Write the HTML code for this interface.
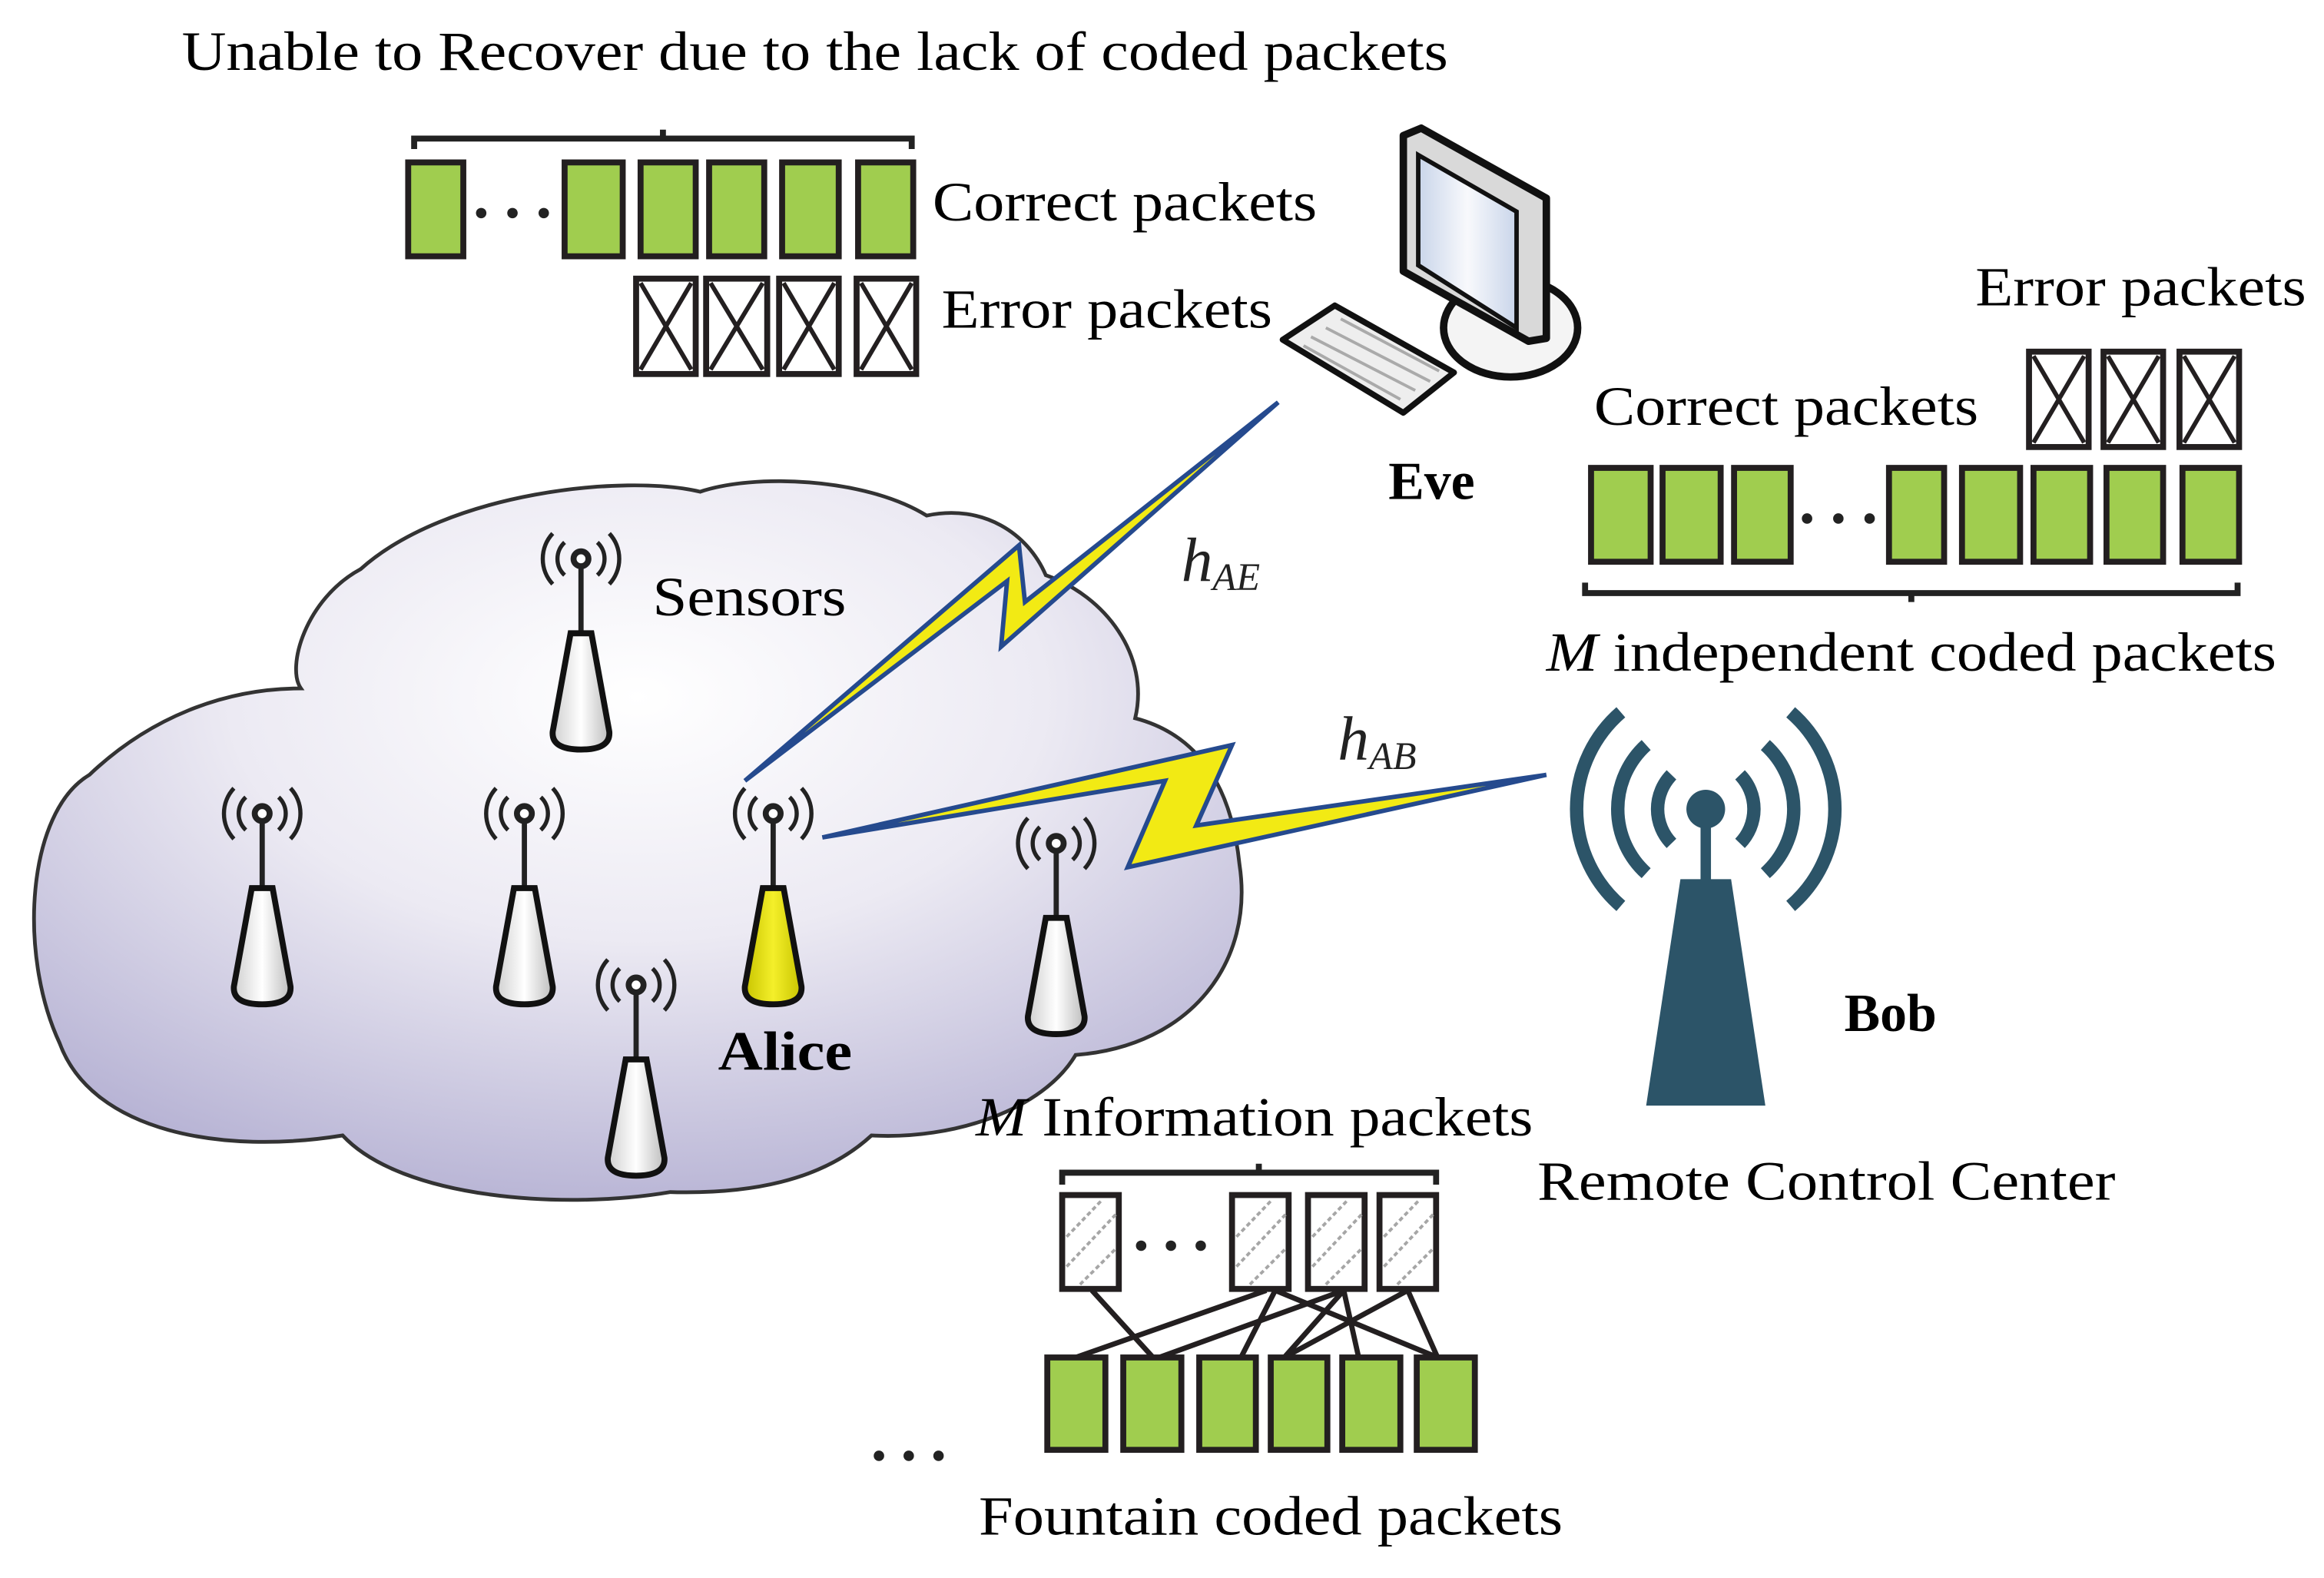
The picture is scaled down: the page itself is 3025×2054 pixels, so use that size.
<!DOCTYPE html>
<html><head><meta charset="utf-8">
<style>html,body{margin:0;padding:0;background:#fff}svg{display:block}</style></head>
<body>
<svg width="3025" height="2054" viewBox="0 0 1560 1059" preserveAspectRatio="none" xmlns="http://www.w3.org/2000/svg" font-family="'Liberation Serif', serif">
<defs>
<radialGradient id="cg" cx="0.5" cy="0.3" r="0.75">
<stop offset="0" stop-color="#ffffff"/><stop offset="0.45" stop-color="#eceaf3"/><stop offset="1" stop-color="#b3afd2"/>
</radialGradient>
<linearGradient id="tw" x1="0" x2="1"><stop offset="0" stop-color="#cfcfcf"/><stop offset="0.5" stop-color="#ffffff"/><stop offset="1" stop-color="#bdbdbd"/></linearGradient>
<linearGradient id="ty" x1="0" x2="1"><stop offset="0" stop-color="#c8c400"/><stop offset="0.5" stop-color="#f4ef2a"/><stop offset="1" stop-color="#c8c400"/></linearGradient>
<linearGradient id="scr" x1="0" x2="1"><stop offset="0" stop-color="#c9d5ea"/><stop offset="0.5" stop-color="#f8f9fc"/><stop offset="1" stop-color="#c9d5ea"/></linearGradient>
<g id="ant">
<circle cx="0" cy="0" r="5" fill="#fff" stroke="#222" stroke-width="4"/>
<path d="M -11,-11 A 15,15 0 0 0 -11,11 M 11,-11 A 15,15 0 0 1 11,11 M -19,-17 A 25,25 0 0 0 -19,17 M 19,-17 A 25,25 0 0 1 19,17" fill="none" stroke="#222" stroke-width="2.8"/>
<line x1="0" y1="4" x2="0" y2="50" stroke="#222" stroke-width="3.5"/>
</g>
<path id="body" d="M -7,50 L 7,50 L 19,116 Q 20,128 0,128 Q -20,128 -19,116 Z" stroke="#111" stroke-width="4"/>
</defs>

<text x="122" y="47" font-size="37" textLength="850" lengthAdjust="spacingAndGlyphs">Unable to Recover due to the lack of coded packets</text>

<path d="M278,100 L278,93 L612,93 L612,100 M445,93 L445,87" fill="none" stroke="#222" stroke-width="4"/>
<g fill="#a0cd4f" stroke="#231f20" stroke-width="4">
<rect x="274" y="109" width="37" height="63"/>
<rect x="379" y="109" width="39" height="63"/>
<rect x="430" y="109" width="37" height="63"/>
<rect x="476" y="109" width="37" height="63"/>
<rect x="525" y="109" width="38" height="63"/>
<rect x="576" y="109" width="37" height="63"/>
</g>
<g fill="#222"><circle cx="323" cy="143" r="3.5"/><circle cx="344" cy="143" r="3.5"/><circle cx="365" cy="143" r="3.5"/></g>
<text x="626" y="148" font-size="37" textLength="258" lengthAdjust="spacingAndGlyphs">Correct packets</text>
<g fill="#fff" stroke="#231f20" stroke-width="4">
<rect x="427" y="187" width="40" height="64"/><path d="M430,190 L464,248 M464,190 L430,248" stroke-width="3"/>
<rect x="474" y="187" width="41" height="64"/><path d="M477,190 L512,248 M512,190 L477,248" stroke-width="3"/>
<rect x="523" y="187" width="40" height="64"/><path d="M526,190 L560,248 M560,190 L526,248" stroke-width="3"/>
<rect x="575" y="187" width="40" height="64"/><path d="M578,190 L612,248 M612,190 L578,248" stroke-width="3"/>
</g>
<text x="632" y="220" font-size="37" textLength="222" lengthAdjust="spacingAndGlyphs">Error packets</text>

<ellipse cx="1014" cy="220" rx="45" ry="33" fill="#f4f4f4" stroke="#111" stroke-width="5"/>
<path d="M942,91 L954,86 L1038,133 L1038,227 L1026,229 L942,182 Z" fill="#d9d9d9" stroke="#111" stroke-width="5" stroke-linejoin="round"/>
<path d="M952,104 L1018,142 L1018,220 L952,178 Z" fill="url(#scr)" stroke="#111" stroke-width="3"/>
<path d="M861,228 L896,205 L976,250 L942,277 Z" fill="#eee" stroke="#111" stroke-width="4" stroke-linejoin="round"/>
<g stroke="#aaa" stroke-width="2"><path d="M880,226 L950,262 M890,220 L960,256 M900,214 L966,249 M875,232 L940,268"/></g>
<text x="932" y="335" font-size="36" font-weight="bold">Eve</text>

<text x="1326" y="205" font-size="37" textLength="222" lengthAdjust="spacingAndGlyphs">Error packets</text>
<g fill="#fff" stroke="#231f20" stroke-width="4">
<rect x="1362" y="236" width="40" height="64"/><path d="M1365,239 L1399,297 M1399,239 L1365,297" stroke-width="3"/>
<rect x="1412" y="236" width="40" height="64"/><path d="M1415,239 L1449,297 M1449,239 L1415,297" stroke-width="3"/>
<rect x="1463" y="236" width="40" height="64"/><path d="M1466,239 L1500,297 M1500,239 L1466,297" stroke-width="3"/>
</g>
<text x="1070" y="285" font-size="37" textLength="258" lengthAdjust="spacingAndGlyphs">Correct packets</text>
<g fill="#a0cd4f" stroke="#231f20" stroke-width="4">
<rect x="1068" y="314" width="40" height="63"/>
<rect x="1116" y="314" width="39" height="63"/>
<rect x="1164" y="314" width="38" height="63"/>
<rect x="1268" y="314" width="37" height="63"/>
<rect x="1317" y="314" width="39" height="63"/>
<rect x="1365" y="314" width="38" height="63"/>
<rect x="1414" y="314" width="38" height="63"/>
<rect x="1465" y="314" width="38" height="63"/>
</g>
<g fill="#222"><circle cx="1213" cy="348" r="3.5"/><circle cx="1234" cy="348" r="3.5"/><circle cx="1255" cy="348" r="3.5"/></g>
<path d="M1064,391 L1064,398 L1502,398 L1502,391 M1283,398 L1283,404" fill="none" stroke="#222" stroke-width="4"/>
<text x="1038" y="450" font-size="37" textLength="490" lengthAdjust="spacingAndGlyphs"><tspan font-style="italic">M</tspan> independent coded packets</text>

<path d="M60,520 C18,545 12,640 40,700 C62,760 150,775 230,762 C270,805 380,812 450,800 C520,802 560,785 585,762 C640,765 700,745 722,708 C800,702 842,645 832,580 C826,522 800,492 762,482 C772,440 742,400 702,386 C690,358 660,338 622,346 C580,320 505,318 470,330 C420,318 300,330 242,382 C205,402 192,448 202,462 C150,462 100,482 60,520 Z" fill="url(#cg)" stroke="#333" stroke-width="2.5"/>

<g transform="translate(390,375)"><use href="#ant"/><use href="#body" fill="url(#tw)"/></g>
<g transform="translate(176,546)"><use href="#ant"/><use href="#body" fill="url(#tw)"/></g>
<g transform="translate(352,546)"><use href="#ant"/><use href="#body" fill="url(#tw)"/></g>
<g transform="translate(519,546)"><use href="#ant"/><use href="#body" fill="url(#ty)"/></g>
<g transform="translate(709,566)"><use href="#ant"/><use href="#body" fill="url(#tw)"/></g>
<g transform="translate(427,661)"><use href="#ant"/><use href="#body" fill="url(#tw)"/></g>
<text x="438" y="413" font-size="37" textLength="130" lengthAdjust="spacingAndGlyphs">Sensors</text>
<text x="482" y="718" font-size="37" font-weight="bold" textLength="90" lengthAdjust="spacingAndGlyphs">Alice</text>

<path d="M500,524 L684,366 L688,404 L858,270 L672,434 L676,390 Z" fill="#f2ea14" stroke="#254a8e" stroke-width="3"/>
<path d="M552,562 L827,500 L803,554 L1038,520 L757,582 L782,524 Z" fill="#f2ea14" stroke="#254a8e" stroke-width="3"/>
<text x="793" y="390" font-size="42" font-style="italic" fill="#222">h<tspan font-size="26" dy="6">AE</tspan></text>
<text x="898" y="510" font-size="42" font-style="italic" fill="#222">h<tspan font-size="26" dy="6">AB</tspan></text>

<path d="M1128,590 L1162,590 L1185,742 L1105,742 Z" fill="#2c5468"/>
<line x1="1145" y1="543" x2="1145" y2="592" stroke="#2c5468" stroke-width="7"/>
<circle cx="1145" cy="543" r="13" fill="#2c5468"/>
<g fill="none" stroke="#2c5468" stroke-width="9">
<path d="M1122,520 A33,33 0 0 0 1122,566 M1168,520 A33,33 0 0 1 1168,566"/>
<path d="M1105,500 A58,58 0 0 0 1105,586 M1185,500 A58,58 0 0 1 1185,586"/>
<path d="M1088,478 A86,86 0 0 0 1088,608 M1202,478 A86,86 0 0 1 1202,608"/>
</g>
<text x="1238" y="692" font-size="36" font-weight="bold">Bob</text>
<text x="1032" y="805" font-size="37" textLength="388" lengthAdjust="spacingAndGlyphs">Remote Control Center</text>

<text x="655" y="762" font-size="37" textLength="374" lengthAdjust="spacingAndGlyphs"><tspan font-style="italic">M</tspan> Information packets</text>
<path d="M713,795 L713,787 L964,787 L964,795 M845,787 L845,781" fill="none" stroke="#222" stroke-width="4"/>
<g fill="#fff" stroke="#231f20" stroke-width="4">
<rect x="713" y="802" width="38" height="63"/>
<rect x="827" y="802" width="38" height="63"/>
<rect x="878" y="802" width="38" height="63"/>
<rect x="926" y="802" width="38" height="63"/>
</g>
<g stroke="#a6a6a6" stroke-width="2" stroke-dasharray="3,2">
<path d="M716,830 L740,805 M716,850 L749,815 M725,862 L749,838"/>
<path d="M830,830 L854,805 M830,850 L863,815 M839,862 L863,838"/>
<path d="M881,830 L905,805 M881,850 L914,815 M890,862 L914,838"/>
<path d="M929,830 L953,805 M929,850 L962,815 M938,862 L962,838"/>
</g>
<g fill="#222"><circle cx="766" cy="836" r="3.5"/><circle cx="786" cy="836" r="3.5"/><circle cx="806" cy="836" r="3.5"/></g>
<g stroke="#231f20" stroke-width="3.5">
<path d="M733,866 L774,911 M850,866 L722,911 M856,866 L833,911 M856,866 L965,911 M902,866 L778,911 M902,866 L862,911 M902,866 L912,911 M945,866 L862,911 M945,866 L965,911"/>
</g>
<g fill="#a0cd4f" stroke="#231f20" stroke-width="4">
<rect x="703" y="911" width="39" height="62"/>
<rect x="754" y="911" width="39" height="62"/>
<rect x="805" y="911" width="38" height="62"/>
<rect x="853" y="911" width="38" height="62"/>
<rect x="901" y="911" width="39" height="62"/>
<rect x="951" y="911" width="39" height="62"/>
</g>
<g fill="#222"><circle cx="590" cy="977" r="3.5"/><circle cx="610" cy="977" r="3.5"/><circle cx="630" cy="977" r="3.5"/></g>
<text x="657" y="1030" font-size="37" textLength="392" lengthAdjust="spacingAndGlyphs">Fountain coded packets</text>
</svg>
</body></html>
